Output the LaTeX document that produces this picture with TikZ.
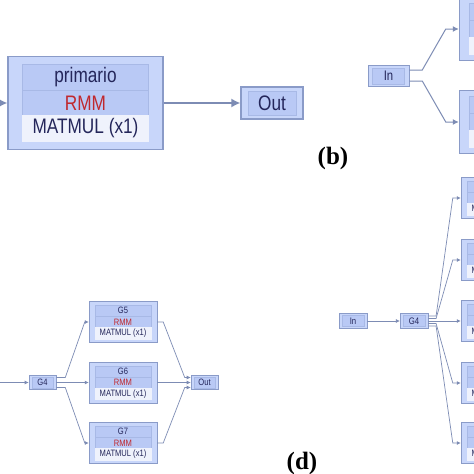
\documentclass[tikz,border=0pt]{standalone}
\usepackage{fontspec}
\setmainfont{Liberation Serif}
\newfontfamily\gatefont[FakeStretch=0.82]{Liberation Sans}
\usetikzlibrary{arrows.meta}
\definecolor{gatefill}{HTML}{C8D6FA}
\definecolor{gateedge}{HTML}{8A9BC8}
\definecolor{rowfill}{HTML}{B9C9F5}
\definecolor{rowedge}{HTML}{A8B9E6}
\definecolor{opfill}{HTML}{EFF2FC}
\definecolor{gatetext}{HTML}{24265A}
\definecolor{rmmred}{HTML}{C0282E}
\definecolor{flowline}{HTML}{7D8CB4}
\tikzset{
  gateouter/.style={draw=gateedge, fill=gatefill, line width=1.4pt*#1,
    minimum width=155, minimum height=93, inner sep=0},
  gaterow/.style={draw=rowedge, fill=rowfill, line width=0.6pt*#1,
    minimum width=126, minimum height=25.5, inner sep=0, text=gatetext,
    font=\gatefont\fontsize{21}{21}\selectfont},
  oprow/.style={gaterow=#1, fill=opfill, draw=opfill},
  portouter/.style={draw=gateedge, fill=gatefill, line width=1.4pt*#1,
    minimum width=62, minimum height=32, inner sep=0},
  portinner/.style={draw=rowedge, fill=rowfill, line width=0.6pt*#1,
    minimum width=48, minimum height=24, inner sep=0, text=gatetext,
    font=\gatefont\fontsize{21}{21}\selectfont},
  flowa/.style={draw=flowline, line width=1.4pt, -{Latex[length=9pt,width=9pt]}},
  flowb/.style={draw=flowline, line width=1pt, -{Latex[length=6pt,width=6pt]}},
  flows/.style={draw=flowline, line width=0.7pt, -{Latex[length=4pt,width=4pt]}},
  panellabel/.style={font=\bfseries\fontsize{25}{25}\selectfont}
}
% gate box: name, x, y, scale, title, kernel, op
\newcommand{\gatebox}[7]{%
  \begin{scope}[shift={(#2,#3)}, scale=#4, transform shape]
    \node[gateouter=#4] (#1) at (0,0) {};
    \node[gaterow=#4] (#1-t) at (0,-25.5) {#5};
    \node[gaterow=#4, text=rmmred] (#1-k) at (0,0) {#6};
    \node[oprow=#4] (#1-o) at (0,25.5) {#7};
  \end{scope}}
% port box: name, x, y, scale, text
\newcommand{\portbox}[5]{%
  \begin{scope}[shift={(#2,#3)}, scale=#4, transform shape]
    \node[portouter=#4] (#1) at (0,0) {};
    \node[portinner=#4] (#1-i) at (0,0) {#5};
  \end{scope}}
\begin{document}
\begin{tikzpicture}[x=1pt, y=-1pt]
\useasboundingbox (0,0) rectangle (474,474);
\fill[white] (0,0) rectangle (474,474);
\clip (0,0) rectangle (474,474);
% (a)
\coordinate (a-src) at (-20,103);
\gatebox{a-prim}{85.5}{103}{1}{primario}{RMM}{MATMUL (x1)}
\portbox{a-out}{272}{103}{1}{Out}
\draw[flowa] (a-src) -- (a-prim);
\draw[flowa] (a-prim) -- (a-out);
% (b)
\portbox{b-in}{388.5}{76}{0.66}{In}
\gatebox{b-k1}{511}{29}{0.67}{}{}{}
\gatebox{b-k2}{511}{122}{0.67}{}{}{}
\draw[flowb] ([yshift=6]b-in.east) -- ++(13,0) -- ([xshift=-13]b-k1.west) -- (b-k1.west);
\draw[flowb] ([yshift=-5]b-in.east) -- ++(13,0) -- ([xshift=-13]b-k2.west) -- (b-k2.west);
\node[panellabel] (lab-b) at (333,158) {(b)};
% (c)
\coordinate (c-src) at (-10,382.5);
\portbox{c-g4}{42.5}{382.5}{0.44}{G4}
\gatebox{c-g5}{123}{322}{0.44}{G5}{RMM}{MATMUL (x1)}
\gatebox{c-g6}{123}{382.5}{0.44}{G6}{RMM}{MATMUL (x1)}
\gatebox{c-g7}{123}{443}{0.44}{G7}{RMM}{MATMUL (x1)}
\portbox{c-out}{204.5}{382.5}{0.44}{Out}
\draw[flows] (c-src) -- (c-g4);
\draw[flows] ([yshift=5]c-g4.east) -- ++(9,0) -- ([xshift=-4]c-g5.west) -- (c-g5.west);
\draw[flows] (c-g4) -- (c-g6);
\draw[flows] ([yshift=-5]c-g4.east) -- ++(9,0) -- ([xshift=-4]c-g7.west) -- (c-g7.west);
\draw[flows] (c-g5.east) -- ++(6,0) -- ([xshift=-6,yshift=5]c-out.west) -- ([yshift=5]c-out.west);
\draw[flows] (c-g6) -- (c-out);
\draw[flows] (c-g7.east) -- ++(6,0) -- ([xshift=-6,yshift=-5]c-out.west) -- ([yshift=-5]c-out.west);
% (d)
\portbox{d-in}{353}{321}{0.45}{In}
\portbox{d-g4}{414}{321}{0.45}{G4}
\gatebox{d-k1}{495}{198}{0.44}{}{}{MATMUL (x1)}
\gatebox{d-k2}{495}{260}{0.44}{}{}{MATMUL (x1)}
\gatebox{d-k3}{495}{321}{0.44}{}{}{MATMUL (x1)}
\gatebox{d-k4}{495}{383}{0.44}{}{}{MATMUL (x1)}
\gatebox{d-k5}{495}{443}{0.44}{}{}{MATMUL (x1)}
\draw[flows] (d-in) -- (d-g4);
\draw[flows] ([yshift=5]d-g4.east) -- ++(8,0) -- ([xshift=-8]d-k1.west) -- (d-k1.west);
\draw[flows] ([yshift=2.5]d-g4.east) -- ++(8,0) -- ([xshift=-8]d-k2.west) -- (d-k2.west);
\draw[flows] (d-g4) -- (d-k3);
\draw[flows] ([yshift=-2.5]d-g4.east) -- ++(8,0) -- ([xshift=-8]d-k4.west) -- (d-k4.west);
\draw[flows] ([yshift=-5]d-g4.east) -- ++(8,0) -- ([xshift=-8]d-k5.west) -- (d-k5.west);
\node[panellabel] (lab-d) at (302,463) {(d)};
\end{tikzpicture}
\end{document}
